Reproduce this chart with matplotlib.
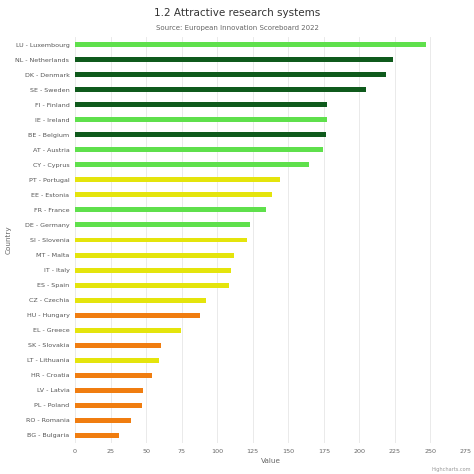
import matplotlib
matplotlib.use("Agg")
import matplotlib.pyplot as plt

countries = ["LU - Luxembourg", "NL - Netherlands", "DK - Denmark", "SE - Sweden", "FI - Finland",
             "IE - Ireland", "BE - Belgium", "AT - Austria", "CY - Cyprus", "PT - Portugal",
             "EE - Estonia", "FR - France", "DE - Germany", "SI - Slovenia", "MT - Malta",
             "IT - Italy", "ES - Spain", "CZ - Czechia", "HU - Hungary", "EL - Greece",
             "SK - Slovakia", "LT - Lithuania", "HR - Croatia", "LV - Latvia", "PL - Poland",
             "RO - Romania", "BG - Bulgaria"]
values = [247, 224, 219, 205, 177.5, 177, 176.4, 174.5, 164.5, 144, 138.6, 134, 123, 121,
          111.5, 110, 108, 92, 88, 74.6, 60.6, 59.2, 54.3, 48, 47, 39.6, 30.8]
groups = ["S", "I", "I", "I", "I", "S", "I", "S", "S", "M", "M", "S", "S", "M", "M",
          "M", "M", "M", "E", "M", "E", "M", "E", "E", "E", "E", "E"]
group_colors = {"I": "#0f5a1c", "S": "#5fe04c", "M": "#e4e40c", "E": "#f07d10"}
xticks = [0, 25, 50, 75, 100, 125, 150, 175, 200, 225, 250, 275]

fig = plt.figure(figsize=(4.74, 4.74), dpi=100)
ax = fig.add_axes([75 / 474, 1 - 443 / 474, 391 / 474, 406 / 474])

ypos = list(range(len(countries)))
ax.barh(ypos, values, height=0.33, color=[group_colors[g] for g in groups], zorder=3)
ax.set_ylim(len(countries) - 0.5, -0.5)
ax.set_yticks(ypos)
ax.set_yticklabels(countries, fontsize=4.6, color="#555555")
ax.set_xlim(0, 275)
ax.set_xticks(xticks)
ax.set_xticklabels([str(t) for t in xticks], fontsize=4.6, color="#666666")
ax.tick_params(length=0, pad=4)
ax.grid(axis="x", color="#e6e6e6", linewidth=0.6, zorder=0)
for s in ax.spines.values():
    s.set_visible(False)
ax.set_xlabel("Value", fontsize=5.2, color="#666666", labelpad=3)
ax.set_ylabel("Country", fontsize=5.2, color="#666666", labelpad=3)

fig.text(0.5, 1 - 13 / 474, "1.2 Attractive research systems", ha="center", va="center",
         fontsize=7.5, color="#333333")
fig.text(0.5, 1 - 28 / 474, "Source: European Innovation Scoreboard 2022", ha="center",
         va="center", fontsize=5, color="#666666")
fig.text(1 - 3 / 474, 1 - 469 / 474, "Highcharts.com", ha="right", va="center",
         fontsize=3.6, color="#999999")

fig.savefig("out.png", dpi=100)
